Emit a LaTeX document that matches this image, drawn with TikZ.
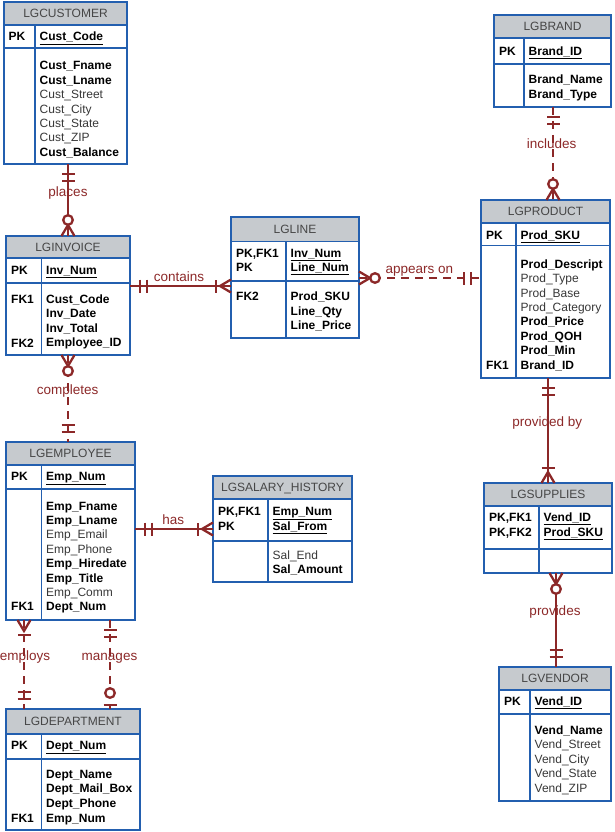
\documentclass[tikz,border=0pt]{standalone}
\usepackage{fontspec}
\setmainfont{Liberation Sans}
\definecolor{tblue}{RGB}{35,95,175}
\definecolor{hgray}{RGB}{198,202,206}
\definecolor{relred}{RGB}{140,40,40}
\definecolor{txtgray}{RGB}{55,55,55}
\definecolor{ttlgray}{RGB}{70,70,70}
\newcommand{\B}[1]{{\bfseries\color{black}#1}}
\newcommand{\U}[1]{{\bfseries\color{black}\underline{#1}}}
\tikzset{
  tframe/.style={draw=tblue, line width=1.8pt},
  tline/.style={draw=tblue, line width=1.4pt},
  ttl/.style={font=\fontsize{12}{14}\selectfont, text=ttlgray, inner sep=0pt, anchor=base},
  fld/.style={font=\fontsize{12}{14}\selectfont, text=txtgray, inner sep=0pt, anchor=base west},
  keyt/.style={font=\fontsize{12}{14}\selectfont\bfseries, text=black, inner sep=0pt, anchor=base west},
  relline/.style={draw=relred, line width=2.3pt},
  reldash/.style={relline, dash pattern=on 8pt off 6pt},
  rlabel/.style={font=\fontsize{13.5}{16}\selectfont, text=relred, inner sep=0pt, anchor=base},
  mone/.pic={\draw[relline] (10,-6.5)--(10,6.5) (17,-6.5)--(17,6.5);},
  omany/.pic={\draw[relline] (0,-6.5)--(11,0)--(0,6.5);
              \draw[relline, fill=white] (16,0) circle (4.8pt);},
  mmany/.pic={\draw[relline] (0,-6.5)--(11,0)--(0,6.5);
              \draw[relline] (15,-6.5)--(15,6.5);},
  oone/.pic={\draw[relline] (4,-6.5)--(4,6.5);
             \draw[relline, fill=white] (16,0) circle (4.8pt);},
}
% #1 name #2 left #3 top #4 right #5 header bottom #6 pk bottom #7 bottom #8 divider #9 title
\newcommand{\ertable}[9]{%
  \fill[hgray] (#2,#3) rectangle (#4,#5);
  \draw[tline] (#2,#5) -- (#4,#5) (#2,#6) -- (#4,#6) (#8,#5) -- (#8,#7);
  \draw[tframe] (#2,#3) rectangle (#4,#7);
  \node[ttl] (#1-t) at ({(#2+#4)/2},{(#3+#5)/2+4.2}) {#9};
}
\begin{document}
\begin{tikzpicture}[x=1pt,y=-1pt]
\useasboundingbox (0,0) rectangle (614,832);

% ---------------- LGCUSTOMER
\ertable{cust}{4}{2}{127}{25}{48}{164}{35}{LGCUSTOMER}
\node[keyt] (cust-k0) at (8.5,41) {PK};
\node[fld] (cust-p0) at (39.5,41) {\U{Cust\_Code}};
\foreach \t [count=\i from 0] in {\B{Cust\_Fname},\B{Cust\_Lname},Cust\_Street,Cust\_City,Cust\_State,Cust\_ZIP,\B{Cust\_Balance}}
  \node[fld] (cust-b\i) at (39.5,70+\i*14.35) {\t};

% ---------------- LGINVOICE
\ertable{inv}{6}{236}{130}{258}{283}{355}{41.5}{LGINVOICE}
\node[keyt] (inv-k0) at (11,274.7) {PK};
\node[fld] (inv-p0) at (46,274.7) {\U{Inv\_Num}};
\node[keyt] (inv-k1) at (11,303.3) {FK1};
\node[keyt] (inv-k2) at (11,347) {FK2};
\foreach \t [count=\i from 0] in {\B{Cust\_Code},\B{Inv\_Date},\B{Inv\_Total},\B{Employee\_ID}}
  \node[fld] (inv-b\i) at (46,303.3+\i*14.55) {\t};

% ---------------- LGLINE
\ertable{line}{231}{217}{359}{241.5}{281}{338}{286}{LGLINE}
\node[keyt] (line-k0) at (236,257.3) {PK,FK1};
\node[keyt] (line-k1) at (236,271.3) {PK};
\node[fld] (line-p0) at (290.5,257.3) {\U{Inv\_Num}};
\node[fld] (line-p1) at (290.5,271.3) {\U{Line\_Num}};
\node[keyt] (line-k2) at (236,300.7) {FK2};
\foreach \t [count=\i from 0] in {\B{Prod\_SKU},\B{Line\_Qty},\B{Line\_Price}}
  \node[fld] (line-b\i) at (290.5,300.7+\i*14.5) {\t};

% ---------------- LGBRAND
\ertable{brand}{494}{15}{611}{38}{64}{107}{524}{LGBRAND}
\node[keyt] (brand-k0) at (499,55.7) {PK};
\node[fld] (brand-p0) at (528.5,55.7) {\U{Brand\_ID}};
\foreach \t [count=\i from 0] in {\B{Brand\_Name},\B{Brand\_Type}}
  \node[fld] (brand-b\i) at (528.5,84+\i*14.3) {\t};

% ---------------- LGPRODUCT
\ertable{prod}{481}{200}{610}{223}{245.7}{377.7}{516}{LGPRODUCT}
\node[keyt] (prod-k0) at (486,239) {PK};
\node[fld] (prod-p0) at (520.5,239) {\U{Prod\_SKU}};
\node[keyt] (prod-k1) at (486,369) {FK1};
\foreach \t [count=\i from 0] in {\B{Prod\_Descript},Prod\_Type,Prod\_Base,Prod\_Category,\B{Prod\_Price},\B{Prod\_QOH},\B{Prod\_Min},\B{Brand\_ID}}
  \node[fld] (prod-b\i) at (520.5,268.3+\i*14.4) {\t};

% ---------------- LGEMPLOYEE
\ertable{emp}{6}{442}{135}{465}{489}{620}{41.5}{LGEMPLOYEE}
\node[keyt] (emp-k0) at (11,480.7) {PK};
\node[fld] (emp-p0) at (46,480.7) {\U{Emp\_Num}};
\node[keyt] (emp-k1) at (11,610.7) {FK1};
\foreach \t [count=\i from 0] in {\B{Emp\_Fname},\B{Emp\_Lname},Emp\_Email,Emp\_Phone,\B{Emp\_Hiredate},\B{Emp\_Title},Emp\_Comm,\B{Dept\_Num}}
  \node[fld] (emp-b\i) at (46,510+\i*14.4) {\t};

% ---------------- LGSALARY_HISTORY
\ertable{sal}{213}{476}{352}{499}{541}{582}{268}{LGSALARY\_HISTORY}
\node[keyt] (sal-k0) at (218,515.7) {PK,FK1};
\node[keyt] (sal-k1) at (218,530) {PK};
\node[fld] (sal-p0) at (272.5,515.7) {\U{Emp\_Num}};
\node[fld] (sal-p1) at (272.5,530) {\U{Sal\_From}};
\node[fld] (sal-b0) at (272.5,559) {Sal\_End};
\node[fld] (sal-b1) at (272.5,573) {\B{Sal\_Amount}};

% ---------------- LGSUPPLIES
\ertable{sup}{484}{483}{612}{506}{549}{573}{539}{LGSUPPLIES}
\node[keyt] (sup-k0) at (489,521.7) {PK,FK1};
\node[keyt] (sup-k1) at (489,536.3) {PK,FK2};
\node[fld] (sup-p0) at (543.5,521.7) {\U{Vend\_ID}};
\node[fld] (sup-p1) at (543.5,536.3) {\U{Prod\_SKU}};

% ---------------- LGDEPARTMENT
\ertable{dept}{6}{709}{140}{734}{759}{830}{41.5}{LGDEPARTMENT}
\node[keyt] (dept-k0) at (11,749.7) {PK};
\node[fld] (dept-p0) at (46,749.7) {\U{Dept\_Num}};
\node[keyt] (dept-k1) at (11,822.3) {FK1};
\foreach \t [count=\i from 0] in {\B{Dept\_Name},\B{Dept\_Mail\_Box},\B{Dept\_Phone},\B{Emp\_Num}}
  \node[fld] (dept-b\i) at (46,778+\i*14.75) {\t};

% ---------------- LGVENDOR
\ertable{vend}{499}{667}{611}{690}{714}{801}{530}{LGVENDOR}
\node[keyt] (vend-k0) at (504,705.7) {PK};
\node[fld] (vend-p0) at (534.5,705.7) {\U{Vend\_ID}};
\foreach \t [count=\i from 0] in {\B{Vend\_Name},Vend\_Street,Vend\_City,Vend\_State,Vend\_ZIP}
  \node[fld] (vend-b\i) at (534.5,734+\i*14.55) {\t};

% ---------------- relationships
\coordinate (placesA) at (68,164);   \coordinate (placesB) at (68,236);
\coordinate (containsA) at (130,286); \coordinate (containsB) at (231,286);
\coordinate (appearsA) at (359,278); \coordinate (appearsB) at (481,278);
\coordinate (includesA) at (553,107); \coordinate (includesB) at (553,200);
\coordinate (completesA) at (68,355); \coordinate (completesB) at (68,442);
\coordinate (hasA) at (135,529); \coordinate (hasB) at (213,529);
\coordinate (provbyA) at (548,378); \coordinate (provbyB) at (548,483);
\coordinate (providesA) at (556,573); \coordinate (providesB) at (556,667);
\coordinate (employsA) at (24,620); \coordinate (employsB) at (24,709);
\coordinate (managesA) at (110,620); \coordinate (managesB) at (110,709);

\draw[relline] (placesA) -- (placesB);
\draw[relline] (containsA) -- (containsB);
\draw[reldash] (appearsA) -- (appearsB);
\draw[reldash] (includesA) -- (includesB);
\draw[reldash] (completesA) -- (completesB);
\draw[relline] (hasA) -- (hasB);
\draw[relline] (provbyA) -- (provbyB);
\draw[relline] (providesA) -- (providesB);
\draw[reldash] (employsA) -- (employsB);
\draw[reldash] (managesA) -- (managesB);

\pic[rotate=-90] at (placesA) {mone};
\pic[rotate=90] at (placesB) {omany};
\pic[rotate=0] at (containsA) {mone};
\pic[rotate=180] at (containsB) {mmany};
\pic[rotate=0] at (appearsA) {omany};
\pic[rotate=180] at (appearsB) {mone};
\pic[rotate=-90] at (includesA) {mone};
\pic[rotate=90] at (includesB) {omany};
\pic[rotate=-90] at (completesA) {omany};
\pic[rotate=90] at (completesB) {mone};
\pic[rotate=0] at (hasA) {mone};
\pic[rotate=180] at (hasB) {mmany};
\pic[rotate=-90] at (provbyA) {mone};
\pic[rotate=90] at (provbyB) {mmany};
\pic[rotate=-90] at (providesA) {omany};
\pic[rotate=90] at (providesB) {mone};
\pic[rotate=-90] at (employsA) {mmany};
\pic[rotate=90] at (employsB) {mone};
\pic[rotate=-90] at (managesA) {mone};
\pic[rotate=90] at (managesB) {oone};

\node[rlabel] (lplaces) at (68,196) {places};
\node[rlabel] (lcontains) at (179,281.7) {contains};
\node[rlabel] (lappears) at (419.3,273.3) {appears on};
\node[rlabel] (lincludes) at (551.7,149) {includes};
\node[rlabel] (lcompletes) at (67.7,394) {completes};
\node[rlabel] (lhas) at (173.3,524.3) {has};
\node[rlabel] (lprovby) at (547.3,426) {provided by};
\node[rlabel] (lprovides) at (555,615) {provides};
\node[rlabel] (lemploys) at (25,660.7) {employs};
\node[rlabel] (lmanages) at (109.5,660.7) {manages};
\end{tikzpicture}
\end{document}
